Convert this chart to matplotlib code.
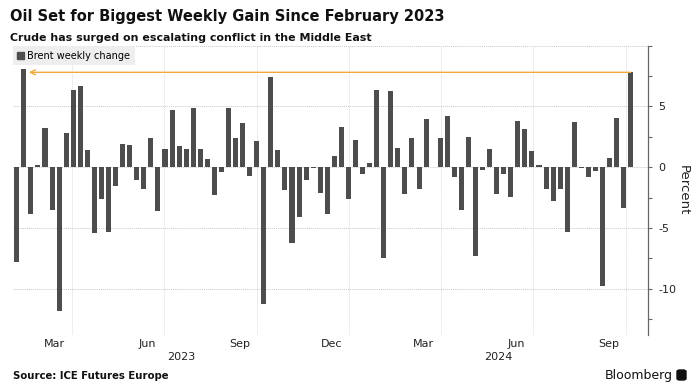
import matplotlib
matplotlib.use("Agg")
import matplotlib.pyplot as plt
import matplotlib.dates as mdates
from matplotlib import font_manager
from matplotlib.ticker import MultipleLocator, FixedLocator
from matplotlib.patches import Patch, FancyBboxPatch
import pandas as pd
import numpy as np

# weekly Brent change, % (week ending Friday)
weeks = pd.date_range("2023-02-03", periods=88, freq="W-FRI")
brent_change = [
    -7.76, 8.06, -3.88, 0.16, 3.2, -3.55, -11.86, 2.79, 6.37, 6.72,
    1.39, -5.38, -2.6, -5.3, -1.53, 1.89, 1.8, -1.04, -1.75, 2.4,
    -3.58, 1.48, 4.75, 1.78, 1.5, 4.84, 1.5, 0.68, -2.3, -0.36,
    4.84, 2.38, 3.6, -0.68, 2.19, -11.26, 7.46, 1.39, -1.86, -6.2,
    -4.07, -1.01, -0.04, -2.1, -3.83, 0.9, 3.28, -2.62, 2.21, -0.57,
    0.33, 6.37, -7.43, 6.26, 1.56, -2.21, 2.38, -1.75, 3.99, 0.05,
    2.4, 4.2, -0.79, -3.5, 2.51, -7.3, -0.22, 1.48, -2.19, -0.57,
    -2.43, 3.77, 3.14, 1.34, 0.16, -1.75, -2.81, -1.75, -5.3, 3.69,
    -0.05, -0.82, -0.27, -9.81, 0.79, 4.02, -3.36, 7.81,
]
quarter_starts = ["2023-04-01", "2023-07-01", "2023-10-01", "2024-01-01",
                  "2024-04-01", "2024-07-01", "2024-10-01"]
month_labels = ["Mar", "Jun", "Sep", "Dec", "Mar", "Jun", "Sep"]
month_dates = ["2023-03-14", "2023-06-14", "2023-09-14", "2023-12-14",
               "2024-03-14", "2024-06-14", "2024-09-14"]
years = ["2023", "2024"]
year_dates = ["2023-07-18", "2024-05-28"]

plt.rcParams["font.family"] = ["DejaVu Sans"]
plt.rcParams["axes.unicode_minus"] = False

# condensed face for the headline if it is installed
names = {f.name for f in font_manager.fontManager.ttflist}
if "Liberation Sans Narrow" in names:
    head_font, head_size, sub_size = "Liberation Sans Narrow", 13.5, 10.3
else:
    head_font, head_size, sub_size = "DejaVu Sans", 10.5, 7.9

bar_col = "#4d4d4d"
grid_col = "#c8c8c8"
arrow_col = "#f0a93a"

fig = plt.figure(figsize=(6.96, 3.87), dpi=100)
W, H = 696, 387
ax = fig.add_axes([12.5 / W, 1 - 335 / H, (648.3 - 12.5) / W, (335 - 45.7) / H])

x = weeks + pd.Timedelta(days=2)
ax.bar(x, brent_change, width=5, color=bar_col, zorder=3)

ax.set_xlim(pd.Timestamp("2023-01-31 18:00"), pd.Timestamp("2024-10-23 10:00"))
ax.set_ylim(-13.8, 10)

# horizontal grid
for v in [10, 5, 0, -5, -10]:
    ax.axhline(v, color=grid_col, lw=0.7, ls=(0, (1, 1)), zorder=1)
# vertical grid at quarter starts
for d in quarter_starts:
    ax.axvline(pd.Timestamp(d), color="#dddddd", lw=0.7, ls=(0, (1, 1)), zorder=1)

# x ticks: month labels, no tick marks
ax.xaxis.set_major_locator(FixedLocator(mdates.date2num(pd.to_datetime(month_dates))))
ax.set_xticklabels(month_labels)
ax.tick_params(axis="x", length=0, pad=3, labelsize=8, colors="#222222")

for y_lab, d in zip(years, year_dates):
    ax.text(pd.Timestamp(d), -0.075, y_lab, transform=ax.get_xaxis_transform(),
            ha="center", va="center", fontsize=8, color="#222222")

# y axis on the right
ax.yaxis.tick_right()
ax.yaxis.set_label_position("right")
ax.yaxis.set_major_locator(FixedLocator([-10, -5, 0, 5]))
ax.yaxis.set_minor_locator(MultipleLocator(2.5))
ax.tick_params(axis="y", which="both", direction="out", length=3, width=0.8,
               color="#666666", labelsize=8, labelcolor="#222222", pad=4)
ax.set_ylabel("Percent", rotation=270, labelpad=10, fontsize=9.5, color="#222222")

for s in ["left", "top", "bottom"]:
    ax.spines[s].set_visible(False)
ax.spines["right"].set_color("#666666")
ax.spines["right"].set_linewidth(0.9)

# arrow from latest bar back to Feb 2023
ax.annotate("", xy=(pd.Timestamp("2023-02-17"), brent_change[-1]),
            xytext=(x[-1], brent_change[-1]),
            arrowprops=dict(arrowstyle="->", color=arrow_col, lw=1,
                            shrinkA=0, shrinkB=0, mutation_scale=9),
            zorder=4)

leg = ax.legend(handles=[Patch(color=bar_col, label="Brent weekly change")],
                loc="upper left", bbox_to_anchor=(0, 1), borderaxespad=0,
                fontsize=7, frameon=True, fancybox=False, handlelength=0.7,
                handleheight=0.7, handletextpad=0.3, borderpad=0.5)
leg.get_frame().set_facecolor("#eeeeee")
leg.get_frame().set_edgecolor("none")
leg.get_frame().set_alpha(1)
leg.set_zorder(5)

fig.text(10 / W, 1 - 20.5 / H, "Oil Set for Biggest Weekly Gain Since February 2023",
         fontsize=head_size, fontweight="bold", family=head_font,
         va="baseline", color="#111111")
fig.text(10 / W, 1 - 41 / H, "Crude has surged on escalating conflict in the Middle East",
         fontsize=sub_size, fontweight="bold", family=head_font,
         va="baseline", color="#111111")
fig.text(13 / W, 1 - 376 / H, "Source: ICE Futures Europe",
         fontsize=7.3, fontweight="bold", va="center", color="#111111")
fig.text(673 / W, 1 - 375 / H, "Bloomberg", fontsize=9, ha="right", va="center",
         color="#111111")
fig.patches.append(FancyBboxPatch((677 / W, 1 - 380 / H), 9 / W, 10 / H,
                                  boxstyle="round,pad=0,rounding_size=0.004",
                                  transform=fig.transFigure, color="#111111"))

fig.savefig("out.png", dpi=100)
